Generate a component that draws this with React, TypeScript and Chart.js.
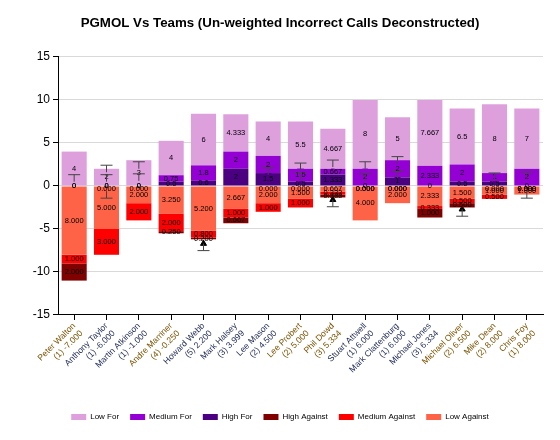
import React, { useEffect, useRef } from "react";
import { Chart, registerables } from "chart.js";

Chart.register(...registerables);

const FONT = "'Liberation Sans', Arial, sans-serif";

const referees = [
  "Peter Walton", "Anthony Taylor", "Martin Atkinson", "Andre Marriner", "Howard Webb",
  "Mark Halsey", "Lee Mason", "Lee Probert", "Phil Dowd", "Stuart Attwell",
  "Mark Clattenburg", "Michael Jones", "Michael Oliver", "Mike Dean", "Chris Foy",
];
const games = [1, 1, 1, 4, 5, 3, 2, 2, 3, 1, 1, 3, 2, 2, 1];
const netScores = ["-7.000", "-6.000", "-1.000", "-0.250", "2.200", "3.999", "4.500", "5.000", "5.334", "6.000", "6.000", "6.334", "6.500", "8.000", "8.000"];
const labelColors = ["#7a5200", "#1f2a55", "#1f2a55", "#7a5200", "#1f2a55", "#1f2a55", "#1f2a55", "#7a5200", "#7a5200", "#1f2a55", "#1f2a55", "#1f2a55", "#7a5200", "#7a5200", "#7a5200"];

const lowFor = [4, 2, 3, 4, 6, 4.333, 4, 5.5, 4.667, 8, 5, 7.667, 6.5, 8, 7];
const mediumFor = [0, 0, 0, 0.75, 1.8, 2, 2, 1.5, 0.667, 2, 2, 2.333, 2, 1, 2];
const highFor = [0, 0, 0, 0.5, 0.6, 2, 1.5, 0.5, 1.333, 0, 1, 0, 0.5, 0.5, 0];
const highAgainst = [2, 0, 0, 0.25, 0.2, 0.667, 0, 0, 0.333, 0, 0, 1, 0.5, 0, 0];
const mediumAgainst = [1, 3, 2, 2, 0.8, 1, 1, 1, 0.333, 0, 0, 0.333, 0.5, 0.5, 0];
const lowAgainst = [8, 5, 2, 3.25, 5.2, 2.667, 2, 1.5, 0.667, 4, 2, 2.333, 1.5, 1, 1];

// callout markers seen on the picture: [referee index, value, pointing down]
const markerIdx = [0, 1, 1, 1, 2, 2, 4, 6, 7, 7, 8, 8, 9, 9, 10, 10, 12, 13, 14, 14];
const markerVal = [0.5, 1.6, 0.5, -0.6, 2.0, 0.6, -6.7, 1.3, 1.85, 0.7, 2.2, -1.6, 2.0, 0.6, 2.6, 0.9, -2.7, 0.7, 0.8, -0.6];
const markerDown = [1, 1, 1, 0, 1, 1, 0, 1, 1, 1, 1, 0, 1, 1, 1, 1, 0, 1, 1, 0];

const yTicks = [-15, -10, -5, 0, 5, 10, 15];

const valueLabels = {
  id: "valueLabels",
  afterDatasetsDraw(chart: any) {
    const ctx = chart.ctx;
    const yScale = chart.scales.y;
    ctx.save();
    ctx.font = `7.5px ${FONT}`;
    ctx.fillStyle = "#000";
    ctx.textAlign = "center";
    ctx.textBaseline = "middle";
    chart.data.datasets.forEach((ds: any, di: number) => {
      if (ds.type === "scatter") return;
      const meta = chart.getDatasetMeta(di);
      meta.data.forEach((el: any, i: number) => {
        const p = el.getProps(["x", "y", "base"], true);
        const v = Math.abs(ds.data[i]);
        const txt = ds.against ? v.toFixed(3) : String(v);
        let y = (p.y + p.base) / 2;
        if (ds.against && v === 0) y = yScale.getPixelForValue(0) + 3;
        ctx.fillText(txt, p.x, y);
      });
    });
    // callout stems & caps
    const mi = chart.data.datasets.findIndex((d: any) => d.type === "scatter");
    if (mi >= 0) {
      const meta = chart.getDatasetMeta(mi);
      ctx.strokeStyle = "#444";
      ctx.lineWidth = 1;
      meta.data.forEach((el: any, i: number) => {
        const down = markerDown[i] === 1;
        const dir = down ? -1 : 1;
        const yEnd = el.y + dir * 7;
        ctx.beginPath();
        ctx.moveTo(el.x, el.y);
        ctx.lineTo(el.x, yEnd);
        ctx.moveTo(el.x - 6, yEnd);
        ctx.lineTo(el.x + 6, yEnd);
        ctx.stroke();
      });
    }
    ctx.restore();
  },
};

const legendRank = [2, 1, 0, 5, 4, 3];

export default function App() {
  const ref = useRef<HTMLCanvasElement>(null);
  useEffect(() => {
    const canvas = ref.current!;
    const bar = (label: string, data: number[], color: string, against = false) => ({
      type: "bar" as const,
      label,
      data: against ? data.map((v) => -v) : data,
      backgroundColor: color,
      borderWidth: 0,
      against,
      stack: "s",
      barPercentage: 0.97,
      categoryPercentage: 0.8,
    });
    const chart = new Chart(canvas, {
      type: "bar",
      data: {
        labels: referees,
        datasets: [
          bar("High For", highFor, "#4B0082"),
          bar("Medium For", mediumFor, "#9400D3"),
          bar("Low For", lowFor, "#DDA0DD"),
          bar("Low Against", lowAgainst, "#FF6347", true),
          bar("Medium Against", mediumAgainst, "#FF0000", true),
          bar("High Against", highAgainst, "#800000", true),
          {
            type: "scatter" as const,
            label: "callouts",
            data: markerIdx.map((r, i) => ({ x: referees[r], y: markerVal[i] })),
            yAxisID: "y2",
            pointStyle: "triangle",
            radius: 3.5,
            backgroundColor: "#000",
            borderColor: "#000",
            borderWidth: 1,
            rotation: (c: any) => (markerDown[c.dataIndex] === 1 ? 180 : 0),
          } as any,
        ],
      },
      options: {
        animation: false,
        responsive: true,
        maintainAspectRatio: false,
        layout: { padding: { top: 8, left: 17, right: 17, bottom: 9 } },
        plugins: {
          title: {
            display: true,
            text: "PGMOL Vs Teams (Un-weighted Incorrect Calls Deconstructed)",
            color: "#000",
            font: { family: FONT, size: 13.3, weight: "bold" },
            padding: { top: 7, bottom: 26 },
          },
          legend: {
            position: "bottom",
            labels: {
              color: "#000",
              font: { family: FONT, size: 8 },
              boxWidth: 15,
              boxHeight: 6,
              padding: 11,
              filter: (item: any) => item.datasetIndex < 6,
              sort: (a: any, b: any) => legendRank[a.datasetIndex] - legendRank[b.datasetIndex],
            },
          },
          tooltip: { enabled: false },
        },
        scales: {
          x: {
            stacked: true,
            offset: true,
            grid: {
              offset: false,
              drawOnChartArea: false,
              drawTicks: true,
              tickLength: 5,
              tickColor: "#000",
            },
            border: { color: "#000", width: 1 },
            ticks: {
              autoSkip: false,
              maxRotation: 45,
              minRotation: 45,
              padding: 1,
              font: { family: FONT, size: 8.6 },
              color: (c: any) => labelColors[c.index],
              callback: (_v: any, i: number) => [referees[i], `(${games[i]}) ${netScores[i]}`],
            },
            afterFit: (s: any) => {
              s.height = 87;
            },
          },
          y: {
            stacked: true,
            min: -15,
            max: 15,
            afterBuildTicks: (s: any) => {
              s.ticks = yTicks.map((v) => ({ value: v }));
            },
            grid: {
              color: "#d9d9d9",
              drawTicks: true,
              tickLength: 5,
              tickColor: "#000",
            },
            border: { color: "#000", width: 1 },
            ticks: {
              color: "#000",
              padding: 3,
              font: { family: FONT, size: 12 },
            },
            afterFit: (s: any) => {
              s.width = 41;
            },
          },
          y2: {
            display: false,
            min: -15,
            max: 15,
          },
        },
      },
      plugins: [valueLabels],
    });
    return () => chart.destroy();
  }, []);
  return (
    <div style={{ position: "absolute", left: 0, top: 0, width: 560, height: 440, background: "#fff" }}>
      <canvas ref={ref} />
    </div>
  );
}
